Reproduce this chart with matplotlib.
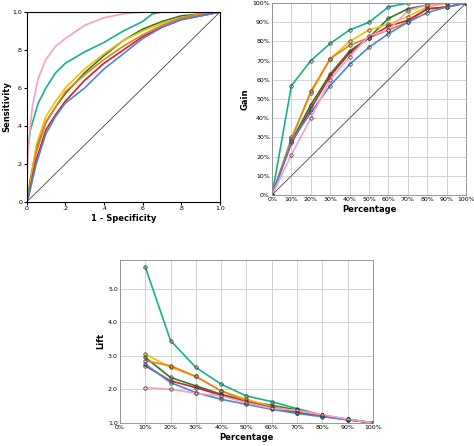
import matplotlib
matplotlib.use("Agg")
import matplotlib.pyplot as plt
import numpy as np

colors = ["#1aae8f", "#2e7d1e", "#f2c200", "#f07c22", "#d0202e", "#4a86d8", "#f5a0c8"]

# ROC curves (fpr, tpr)
roc = [
    ([0,0,0.01,0.02,0.04,0.06,0.1,0.15,0.2,0.25,0.3,0.4,0.5,0.6,0.65,0.7,1.0],
     [0,0.22,0.3,0.38,0.45,0.52,0.6,0.68,0.73,0.76,0.79,0.84,0.9,0.95,0.99,1.0,1.0]),
    ([0,0.01,0.02,0.05,0.1,0.15,0.2,0.3,0.4,0.5,0.6,0.7,0.8,0.9,1.0],
     [0,0.05,0.12,0.28,0.42,0.5,0.57,0.68,0.77,0.85,0.91,0.95,0.98,0.99,1.0]),
    ([0,0.01,0.02,0.05,0.1,0.15,0.2,0.3,0.4,0.5,0.6,0.7,0.8,0.9,1.0],
     [0,0.04,0.1,0.3,0.45,0.53,0.6,0.7,0.78,0.85,0.9,0.94,0.97,0.99,1.0]),
    ([0,0.01,0.02,0.05,0.1,0.15,0.2,0.3,0.4,0.5,0.6,0.7,0.8,0.9,1.0],
     [0,0.03,0.08,0.26,0.42,0.5,0.58,0.67,0.75,0.82,0.88,0.93,0.97,0.99,1.0]),
    ([0,0.01,0.02,0.05,0.1,0.15,0.2,0.3,0.4,0.5,0.6,0.7,0.8,0.9,1.0],
     [0,0.03,0.08,0.22,0.38,0.46,0.53,0.64,0.73,0.8,0.87,0.92,0.96,0.98,1.0]),
    ([0,0.01,0.02,0.05,0.1,0.15,0.2,0.3,0.4,0.5,0.6,0.7,0.8,0.9,1.0],
     [0,0.03,0.07,0.2,0.36,0.45,0.52,0.6,0.7,0.78,0.86,0.92,0.96,0.98,1.0]),
    ([0,0.005,0.01,0.02,0.03,0.06,0.1,0.15,0.2,0.3,0.4,0.5,0.6,1.0],
     [0,0.2,0.3,0.4,0.5,0.65,0.75,0.82,0.86,0.93,0.97,0.99,1.0,1.0]),
]

pct = [0,10,20,30,40,50,60,70,80,90,100]
gain = [
    [0,57,70,79,86,90,98,100,100,100,100],
    [0,28,47,63,75,82,92,97,99,100,100],
    [0,30,53,71,80,86,89,93,98,100,100],
    [0,29,54,71,78,82,86,90,97,98,100],
    [0,27,45,62,74,82,88,91,97,98,100],
    [0,28,43,57,68,77,84,90,95,98,100],
    [0,21,40,60,72,83,86,96,99,100,100],
]

lift_pct = [10,20,30,40,50,60,70,80,90,100]
lift = [
    [5.65,3.45,2.65,2.15,1.80,1.63,1.42,1.23,1.10,1.0],
    [2.95,2.35,2.10,1.85,1.65,1.52,1.38,1.22,1.10,1.0],
    [3.05,2.65,2.38,1.95,1.70,1.48,1.33,1.22,1.10,1.0],
    [2.85,2.70,2.38,1.95,1.65,1.45,1.30,1.20,1.10,1.0],
    [2.70,2.25,2.05,1.82,1.62,1.45,1.30,1.20,1.09,1.0],
    [2.75,2.20,1.90,1.70,1.55,1.40,1.28,1.18,1.09,1.0],
    [2.05,2.00,1.88,1.80,1.60,1.43,1.37,1.24,1.11,1.0],
]

fig = plt.figure(figsize=(4.74, 4.46), dpi=100)
fs = 4.5

# ROC
ax1 = fig.add_axes([0.056, 0.547, 0.408, 0.426])
for (x, y), c in zip(roc, colors):
    ax1.plot(x, y, color=c, lw=1.2)
ax1.plot([0, 1], [0, 1], color="#444444", lw=0.6)
ax1.set_xlim(0, 1); ax1.set_ylim(0, 1)
ticks = [0, .2, .4, .6, .8, 1.0]
lbl = ["0", ".2", ".4", ".6", ".8", "1.0"]
ax1.set_xticks(ticks); ax1.set_xticklabels(lbl, fontsize=fs)
ax1.set_yticks(ticks); ax1.set_yticklabels(lbl, fontsize=fs)
ax1.set_xlabel("1 - Specificity", fontsize=6, fontweight="bold", labelpad=2)
ax1.set_ylabel("Sensitivity", fontsize=6, fontweight="bold", labelpad=1)
ax1.tick_params(length=2, pad=1)

def style_grid(ax):
    ax.grid(True, color="#cccccc", lw=0.6)
    ax.set_axisbelow(True)
    for s in ax.spines.values():
        s.set_color("#888888"); s.set_linewidth(0.6)
    ax.tick_params(length=0, pad=1.5)

# Gain
ax2 = fig.add_axes([0.574, 0.563, 0.409, 0.43])
for g, c in zip(gain, colors):
    ax2.plot(pct, g, color=c, lw=1.2, marker="o", ms=2.5, mfc="none", mec="#333333", mew=0.5)
ax2.plot([0, 100], [0, 100], color="#444444", lw=0.6)
ax2.set_xlim(0, 100); ax2.set_ylim(0, 100)
pt = list(range(0, 101, 10))
ax2.set_xticks(pt); ax2.set_xticklabels([f"{p}%" for p in pt], fontsize=fs)
ax2.set_yticks(pt); ax2.set_yticklabels([f"{p}%" for p in pt], fontsize=fs)
ax2.set_xlabel("Percentage", fontsize=6, fontweight="bold", labelpad=2)
ax2.set_ylabel("Gain", fontsize=6, fontweight="bold", labelpad=2)
style_grid(ax2)

# Lift
ax3 = fig.add_axes([0.253, 0.052, 0.534, 0.365])
for l, c in zip(lift, colors):
    ax3.plot(lift_pct, l, color=c, lw=1.2, marker="o", ms=2.5, mfc="none", mec="#333333", mew=0.5)
ax3.set_xlim(0, 100); ax3.set_ylim(1.0, 5.85)
ax3.set_xticks(pt); ax3.set_xticklabels([f"{p}%" for p in pt], fontsize=fs)
ax3.set_yticks([1, 2, 3, 4, 5]); ax3.set_yticklabels(["1.0", "2.0", "3.0", "4.0", "5.0"], fontsize=fs)
ax3.set_xlabel("Percentage", fontsize=6, fontweight="bold", labelpad=2)
ax3.set_ylabel("Lift", fontsize=6, fontweight="bold", labelpad=2)
style_grid(ax3)

fig.savefig("out.png", dpi=100)
